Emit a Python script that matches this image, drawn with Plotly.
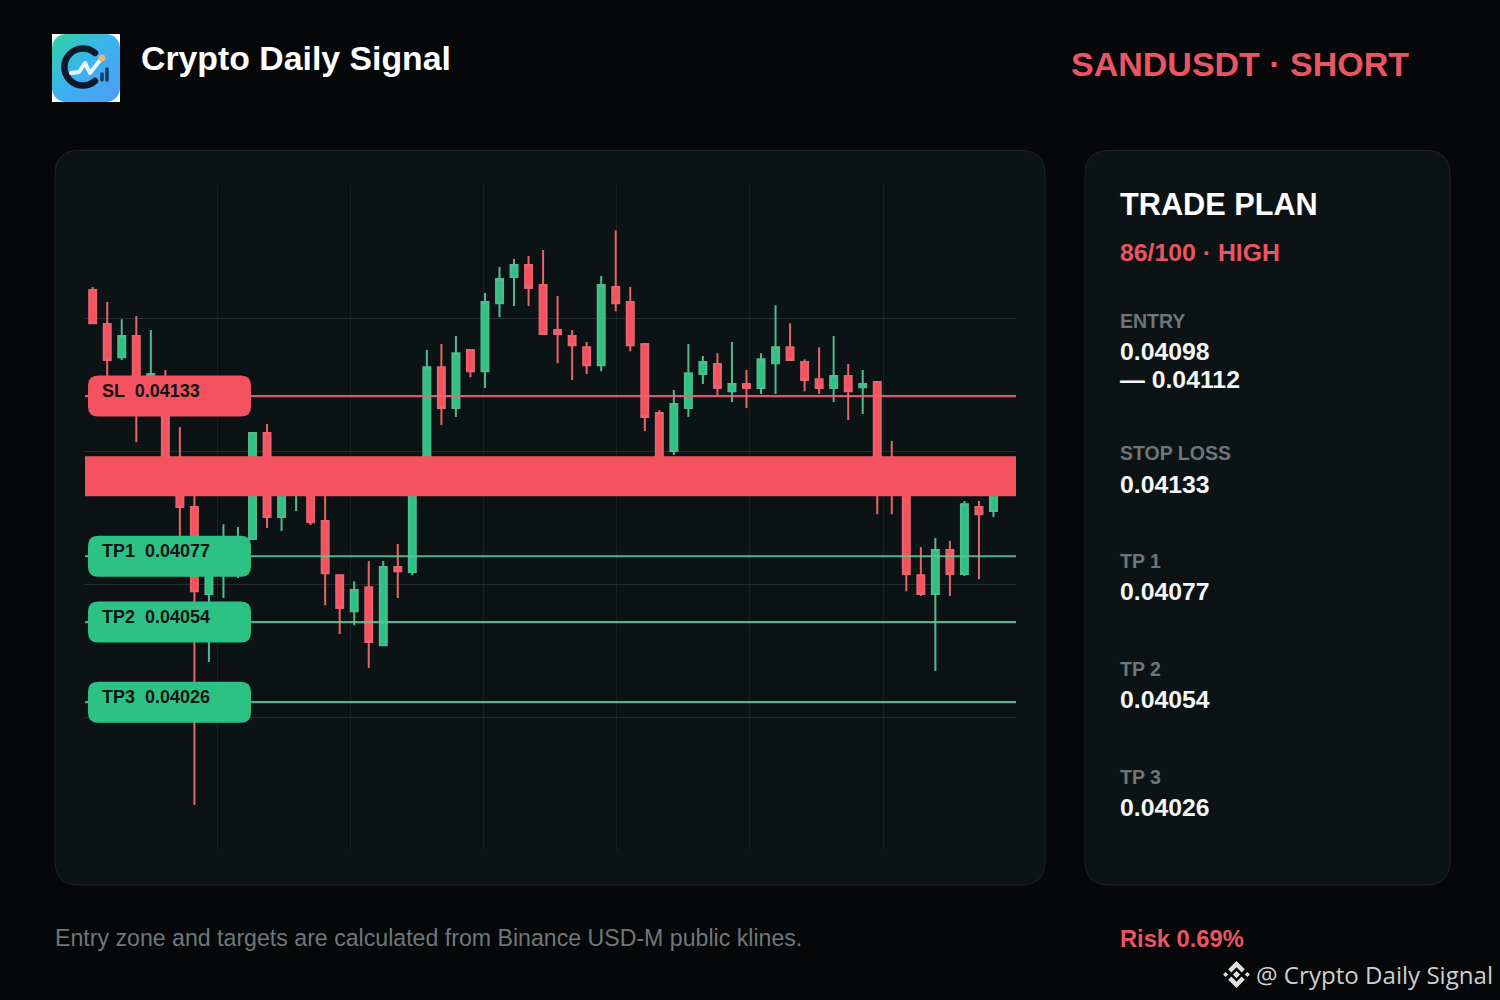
import base64

import plotly.graph_objects as go

# ohlc
opens = [0.041701, 0.041582, 0.041466, 0.041540, 0.041400, 0.041393, 0.041071, 0.040942, 0.040638, 0.040739, 0.040757,
         0.040830, 0.041201, 0.040907, 0.040984, 0.041019, 0.040893, 0.040704, 0.040578, 0.040662, 0.040459, 0.040732,
         0.040715, 0.041071, 0.041431, 0.041288, 0.041491, 0.041417, 0.041655, 0.041746, 0.041788, 0.041718, 0.041561,
         0.041540, 0.041501, 0.041438, 0.041711, 0.041659, 0.041512, 0.041271, 0.041138, 0.041288, 0.041407, 0.041442,
         0.041347, 0.041372, 0.041358, 0.041445, 0.041501, 0.041449, 0.041389, 0.041358, 0.041400, 0.041361, 0.041379,
         0.041089, 0.041036, 0.040704, 0.040638, 0.040792, 0.040708, 0.040942, 0.040928]
highs = [0.041711, 0.041659, 0.041599, 0.041610, 0.041561, 0.041421, 0.041222, 0.041001, 0.040809, 0.040882, 0.040872,
         0.041201, 0.041232, 0.041071, 0.041019, 0.041036, 0.041036, 0.040704, 0.040683, 0.040753, 0.040753, 0.040813,
         0.041089, 0.041491, 0.041512, 0.041540, 0.041491, 0.041690, 0.041781, 0.041809, 0.041820, 0.041841, 0.041680,
         0.041561, 0.041519, 0.041750, 0.041910, 0.041711, 0.041512, 0.041281, 0.041351, 0.041512, 0.041470, 0.041480,
         0.041519, 0.041421, 0.041480, 0.041648, 0.041585, 0.041459, 0.041501, 0.041540, 0.041442, 0.041421, 0.041379,
         0.041173, 0.041071, 0.040802, 0.040834, 0.040823, 0.040963, 0.040963, 0.041036]
lows = [0.041585, 0.041368, 0.041456, 0.041169, 0.041393, 0.041019, 0.040827, 0.039900, 0.040400, 0.040624, 0.040694,
        0.040830, 0.040869, 0.040858, 0.040928, 0.040879, 0.040599, 0.040498, 0.040529, 0.040379, 0.040459, 0.040624,
        0.040704, 0.041054, 0.041229, 0.041257, 0.041396, 0.041358, 0.041606, 0.041645, 0.041645, 0.041547, 0.041445,
        0.041386, 0.041407, 0.041417, 0.041627, 0.041487, 0.041208, 0.041054, 0.041124, 0.041257, 0.041372, 0.041333,
        0.041309, 0.041288, 0.041337, 0.041337, 0.041456, 0.041347, 0.041337, 0.041309, 0.041246, 0.041267, 0.040917,
        0.040917, 0.040648, 0.040631, 0.040369, 0.040631, 0.040701, 0.040690, 0.040907]
closes = [0.041585, 0.041456, 0.041540, 0.041333, 0.041407, 0.041036, 0.040942, 0.040648, 0.040774, 0.040809, 0.040827,
          0.041201, 0.040907, 0.041036, 0.041001, 0.040889, 0.040711, 0.040589, 0.040652, 0.040470, 0.040732, 0.040718,
          0.041071, 0.041431, 0.041288, 0.041480, 0.041417, 0.041659, 0.041739, 0.041788, 0.041708, 0.041547, 0.041547,
          0.041508, 0.041438, 0.041718, 0.041655, 0.041508, 0.041257, 0.041071, 0.041302, 0.041410, 0.041449, 0.041358,
          0.041372, 0.041358, 0.041459, 0.041501, 0.041456, 0.041386, 0.041358, 0.041400, 0.041347, 0.041372, 0.041001,
          0.041001, 0.040708, 0.040638, 0.040792, 0.040708, 0.040952, 0.040917, 0.041019]
candle_index = list(range(len(opens)))

entry_low = 0.04098
entry_high = 0.04112
stop_loss = 0.04133
targets = [0.04077, 0.04054, 0.04026]
target_names = ["TP1", "TP2", "TP3"]

grid_prices = [0.041603, 0.041138, 0.040673, 0.040208]
grid_candles = [8.6, 17.76, 26.92, 36.08, 45.24, 54.4]

plan_labels = ["ENTRY", "STOP LOSS", "TP 1", "TP 2", "TP 3"]
plan_values = [["0.04098", "— 0.04112"], ["0.04133"], ["0.04077"], ["0.04054"], ["0.04026"]]

RED = "#f4525f"
RED_TEXT = "#e95663"
RED_WICK = "#e8636e"
RED_LINE = "#ee6570"
GREEN = "#2cc185"
GREEN_WICK = "#4fbb8f"
GREEN_LINE = "#5fc397"
BG = "#050708"
PANEL = "#0c1314"
EDGE = "#1d2527"
W = 1500
H = 1000
PLOT_L, PLOT_R, PLOT_T, PLOT_B = 85, 1016, 185, 850
Y_RANGE = [0.039743, 0.042068]
X_RANGE = [-0.53, 63.55]


def px_x(x):
    return x / W


def px_y(y):
    return 1 - y / H


def price_to_px(price):
    frac = (price - Y_RANGE[0]) / (Y_RANGE[1] - Y_RANGE[0])
    return PLOT_B - frac * (PLOT_B - PLOT_T)


def roundRect(x0, y0, x1, y1, r):
    def p(x, y):
        return "%.5f,%.5f" % (px_x(x), px_y(y))

    return ("M " + p(x0 + r, y0) + " L " + p(x1 - r, y0) + " Q " + p(x1, y0) + " " + p(x1, y0 + r)
            + " L " + p(x1, y1 - r) + " Q " + p(x1, y1) + " " + p(x1 - r, y1)
            + " L " + p(x0 + r, y1) + " Q " + p(x0, y1) + " " + p(x0, y1 - r)
            + " L " + p(x0, y0 + r) + " Q " + p(x0, y0) + " " + p(x0 + r, y0) + " Z")


def svgImage(svg):
    return "data:image/svg+xml;base64," + base64.b64encode(svg.encode()).decode()


def addText(text, x, y, size, color, bold=True, family="Liberation Sans"):
    # y is the vertical middle of the text in pixels, x - 2 takes out the annotation padding
    if bold:
        text = "<b>" + text + "</b>"
    fig.add_annotation(text=text, x=px_x(x - 2), y=px_y(y), xref="paper", yref="paper", xanchor="left",
                       yanchor="middle", align="left", showarrow=False,
                       font=dict(family=family, size=size, color=color))


logo_svg = """<svg xmlns='http://www.w3.org/2000/svg' viewBox='0 0 68 68'>
<defs><linearGradient id='g' x1='0' y1='0' x2='1' y2='1'>
<stop offset='0' stop-color='#2fd59c'/><stop offset='0.45' stop-color='#3ab4ee'/><stop offset='1' stop-color='#4f9bf8'/>
</linearGradient></defs>
<rect width='68' height='68' fill='#ffffff'/>
<rect width='68' height='68' rx='14' fill='url(#g)'/>
<path d='M43 19 A18.5 18.5 0 1 0 43 47' fill='none' stroke='#0e1a2b' stroke-width='6.5' stroke-linecap='round'/>
<path d='M19 39 L27 38 L33 29 L38 39 L49 25' fill='none' stroke='#e8f6fb' stroke-width='4' stroke-linejoin='round' stroke-linecap='round'/>
<circle cx='50' cy='24' r='3.5' fill='#f2b36a'/>
<path d='M55 35 V46 M50 40 V46' stroke='#123a5a' stroke-width='3.5' stroke-linecap='round'/>
</svg>"""

diamond_svg = """<svg xmlns='http://www.w3.org/2000/svg' viewBox='0 0 28 28'>
<g fill='#e0e0e0'>
<path d='M14 1 L22 9 L19 12 L14 7 L9 12 L6 9 Z'/>
<path d='M14 27 L22 19 L19 16 L14 21 L9 16 L6 19 Z'/>
<path d='M14 10.5 L17.5 14 L14 17.5 L10.5 14 Z'/>
<path d='M3.5 11.5 L6 14 L3.5 16.5 L1 14 Z'/>
<path d='M24.5 11.5 L27 14 L24.5 16.5 L22 14 Z'/>
</g></svg>"""

fig = go.Figure()
fig.add_trace(go.Candlestick(x=candle_index, open=opens, high=highs, low=lows, close=closes,
                             increasing=dict(line=dict(color=GREEN_WICK, width=2), fillcolor=GREEN),
                             decreasing=dict(line=dict(color=RED_WICK, width=2), fillcolor=RED),
                             whiskerwidth=0, showlegend=False, hoverinfo="skip"))

# panels
fig.add_shape(type="path", path=roundRect(55, 150.5, 1045, 885, 24), xref="paper", yref="paper",
              fillcolor=PANEL, line=dict(color=EDGE, width=1), layer="below")
fig.add_shape(type="path", path=roundRect(1085, 150.5, 1450, 885, 24), xref="paper", yref="paper",
              fillcolor=PANEL, line=dict(color=EDGE, width=1), layer="below")

# entry zone, levels and their tags
fig.add_shape(type="rect", xref="x domain", yref="y", x0=0, x1=1, y0=entry_low, y1=entry_high,
              fillcolor=RED, line=dict(width=0), layer="above")
levels = [("SL", stop_loss, RED, RED_LINE)] + [(n, t, GREEN, GREEN_LINE) for n, t in zip(target_names, targets)]
for name, price, color, line_color in levels:
    fig.add_shape(type="line", xref="x domain", yref="y", x0=0, x1=1, y0=price, y1=price,
                  line=dict(color=line_color, width=2.2), opacity=0.9, layer="above")
for name, price, color, line_color in levels:
    mid = price_to_px(price)
    fig.add_shape(type="path", path=roundRect(88, mid - 20.5, 251, mid + 20.5, 10), xref="paper", yref="paper",
                  fillcolor=color, line=dict(width=0), layer="above")
    addText(name + "  %.5f" % price, 102, mid - 5, 18, "#101414")

# header
addText("Crypto Daily Signal", 141, 58, 33.8, "#ffffff")
addText("SANDUSDT · SHORT", 1071, 64, 34, RED_TEXT)

# trade plan
addText("TRADE PLAN", 1120, 205, 30.7, "#ffffff")
addText("86/100 · HIGH", 1120, 252, 24.8, RED_TEXT)
label_y = [321, 453, 561, 669, 777]
value_y = [351, 484, 591.5, 699.5, 807.5]
for label, value, ly, vy in zip(plan_labels, plan_values, label_y, value_y):
    addText(label, 1120, ly, 19.5, "#6f7678")
    for i, line in enumerate(value):
        addText(line, 1120, vy + i * 28, 24.8, "#f4f6f6")

# footer
addText("Entry zone and targets are calculated from Binance USD-M public klines.", 55, 938, 23.15, "#70777a", bold=False)
addText("Risk 0.69%", 1120, 939, 23.7, RED_TEXT)
addText("@ Crypto Daily Signal", 1256, 974, 24.1, "#cfcfcf", bold=False, family="Open Sans")

fig.add_layout_image(source=svgImage(logo_svg), xref="paper", yref="paper", x=px_x(52), y=px_y(34),
                     sizex=68 / W, sizey=68 / H, xanchor="left", yanchor="top", sizing="stretch", layer="above")
fig.add_layout_image(source=svgImage(diamond_svg), xref="paper", yref="paper", x=px_x(1222), y=px_y(960),
                     sizex=29 / W, sizey=29 / H, xanchor="left", yanchor="top", sizing="stretch", layer="above")

fig.update_layout(width=W, height=H, margin=dict(l=0, r=0, t=0, b=0), paper_bgcolor=BG, plot_bgcolor="rgba(0,0,0,0)",
                  boxgap=0.52, boxgroupgap=0, showlegend=False)
fig.update_xaxes(domain=[px_x(PLOT_L), px_x(PLOT_R)], range=X_RANGE, rangeslider=dict(visible=False),
                 tickmode="array", tickvals=grid_candles, showticklabels=False, ticks="", zeroline=False,
                 showgrid=True, gridcolor="#182022", gridwidth=1, showline=False)
fig.update_yaxes(domain=[px_y(PLOT_B), px_y(PLOT_T)], range=Y_RANGE,
                 tickmode="array", tickvals=grid_prices, showticklabels=False, ticks="", zeroline=False,
                 showgrid=True, gridcolor="#252d2f", gridwidth=1, showline=False)

fig.write_html("out.html", config=dict(displayModeBar=False),
               post_script="document.body.style.margin='0';document.body.style.background='%s';" % BG)
